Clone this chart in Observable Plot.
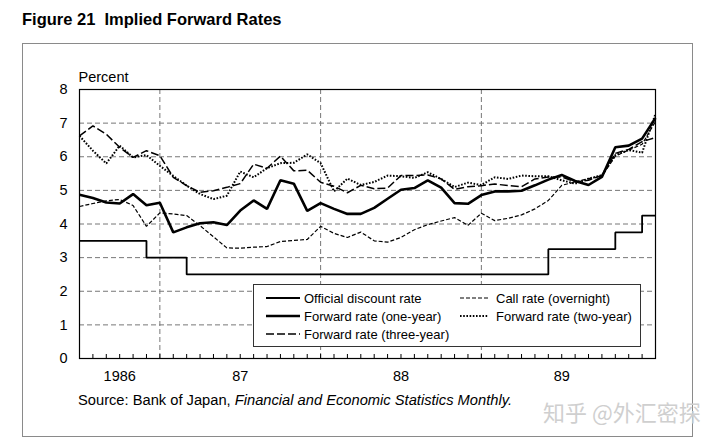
<!DOCTYPE html>
<html>
<head>
<meta charset="utf-8">
<script src="https://cdn.jsdelivr.net/npm/d3@7"></script>
<script src="https://cdn.jsdelivr.net/npm/@observablehq/plot@0.6"></script>
<style>
  body { margin: 0; background: #fff; }
  #wrap { position: relative; width: 720px; height: 438px; background: #fff; font-family: "Liberation Sans", Arial, sans-serif; color: #000; overflow: hidden; }
  #title { position: absolute; left: 22px; top: 10px; font-size: 16.5px; font-weight: bold; white-space: pre; }
  #frame { position: absolute; left: 22px; top: 43px; width: 669px; height: 392px; border: 1px solid #8a8a8a; }
  #chart { position: absolute; left: 0; top: 0; }
  #source { position: absolute; left: 78px; top: 392px; font-size: 14.7px; white-space: pre; }
  #legend { position: absolute; left: 253px; top: 284px; width: 386px; height: 61px; border: 1px solid #333; background: #fff; font-size: 13px; }
  .item { position: absolute; display: flex; align-items: center; white-space: nowrap; }
  #wm { position: absolute; left: 543px; top: 395px; font-family: "Noto Sans CJK SC", sans-serif; font-size: 22px; color: #cfcfcf; white-space: pre; }
</style>
</head>
<body>
<div id="wrap">
  <div id="title">Figure 21  Implied Forward Rates</div>
  <div id="frame"></div>
  <div id="chart"></div>
  <div id="legend"></div>
  <div id="source">Source: Bank of Japan, <i>Financial and Economic Statistics Monthly.</i></div>
  <div id="wm">知乎 @外汇密探</div>
</div>
<script>
// Monthly observations, mid-1986 to early 1990 (44 months)
const discountRate = [3.5,3.5,3.5,3.5,3.5, 3.0,3.0,3.0,
  2.5,2.5,2.5,2.5,2.5,2.5,2.5,2.5,2.5,2.5,2.5,2.5,2.5,2.5,2.5,2.5,2.5,2.5,2.5,2.5,2.5,2.5,2.5,2.5,2.5,2.5,2.5,
  3.25,3.25,3.25,3.25,3.25, 3.75,3.75, 4.25,4.25];
const callRate = [4.52,4.61,4.69,4.73,4.55,3.93,4.33,4.30,4.25,3.95,3.62,3.29,
  3.28,3.31,3.33,3.48,3.51,3.54,3.93,3.72,3.60,3.76,3.50,3.46,
  3.60,3.83,3.98,4.09,4.19,3.96,4.32,4.10,4.17,4.27,4.45,4.70,
  5.15,5.25,5.35,5.42,6.02,6.20,6.37,7.05];
const forward1 = [4.87,4.77,4.64,4.61,4.89,4.56,4.63,3.75,3.90,4.02,4.05,3.97,
  4.40,4.70,4.45,5.30,5.20,4.39,4.62,4.45,4.30,4.30,4.48,4.75,
  5.02,5.07,5.30,5.08,4.62,4.60,4.86,4.97,4.97,4.99,5.15,5.32,
  5.46,5.28,5.16,5.40,6.28,6.33,6.54,7.15];
const forward2 = [6.62,6.18,5.80,6.33,5.98,6.05,5.73,5.43,5.14,4.89,4.74,4.84,
  5.56,5.39,5.66,5.81,5.82,6.07,5.81,4.97,5.35,5.16,5.25,5.44,
  5.42,5.37,5.54,5.34,5.10,5.23,5.16,5.39,5.34,5.44,5.42,5.42,
  5.30,5.20,5.35,5.45,6.05,6.20,6.12,7.28];
const forward3 = [6.62,6.92,6.67,6.28,5.98,6.18,6.03,5.39,5.14,4.94,4.99,5.09,
  5.20,5.78,5.66,6.02,5.58,5.60,5.24,5.12,4.93,5.15,5.05,5.07,
  5.44,5.44,5.46,5.34,5.03,5.11,5.14,5.19,5.14,5.11,5.34,5.40,
  5.40,5.25,5.30,5.45,6.10,6.22,6.45,6.57];
const yearLabels = ["1986", "87", "88", "89"];
const yearLabelPos = [3, 12, 24, 36];     // month index where each year label sits
const yearBoundaries = [6, 18, 30];      // month index of January
const yTicks = [0,1,2,3,4,5,6,7,8];
const gridValues = [1,2,3,4,5,6,7];

const rows = discountRate.map((d, i) => ({
  i, discount: d, call: callRate[i], f1: forward1[i], f2: forward2[i], f3: forward3[i]
}));
const monthTicks = rows.map(r => r.i).slice(1, -1);

const series = [
  {key: "discount", label: "Official discount rate", width: 1.8, dash: null, curve: "step-after"},
  {key: "call", label: "Call rate (overnight)", width: 1.2, dash: "4,2", curve: "linear"},
  {key: "f1", label: "Forward rate (one-year)", width: 2.6, dash: null, curve: "linear"},
  {key: "f2", label: "Forward rate (two-year)", width: 2, dash: "1.6,1.6", curve: "linear"},
  {key: "f3", label: "Forward rate (three-year)", width: 1.5, dash: "8,3", curve: "linear"}
];

const gridStyle = {stroke: "#777", strokeOpacity: 1, strokeWidth: 1, strokeDasharray: "5,3"};
const H = 438, MT = 89, MB = 80;

const plot = Plot.plot({
  width: 720,
  height: H,
  marginLeft: 79,
  marginRight: 65,
  marginTop: MT,
  marginBottom: MB,
  style: {fontFamily: "'Liberation Sans', Arial, sans-serif", fontSize: "14.5px", color: "#000", background: "transparent", overflow: "visible"},
  x: {type: "linear", domain: [0, 43], label: null},
  y: {domain: [0, 8], label: null},
  marks: [
    Plot.ruleY(gridValues, gridStyle),
    Plot.ruleX(yearBoundaries, gridStyle),
    ...series.map(s => Plot.line(rows, {
      x: "i", y: s.key, stroke: "#000", strokeWidth: s.width,
      strokeDasharray: s.dash, curve: s.curve, strokeLinejoin: "miter", strokeLinecap: "butt"
    })),
    // monthly minor ticks pointing up from the x axis
    Plot.ruleX(monthTicks, {stroke: "#000", strokeWidth: 1, insetTop: H - MT - MB - 4}),
    Plot.frame({stroke: "#000", strokeWidth: 1.2}),
    Plot.axisX({ticks: yearLabelPos, tickSize: 0, tickPadding: 12, tickFormat: (d, k) => yearLabels[k], label: null}),
    Plot.axisY({ticks: yTicks, tickSize: 0, tickPadding: 12, label: null}),
    Plot.text(["Percent"], {frameAnchor: "top-left", textAnchor: "start", dy: -18, dx: -1})
  ]
});
document.getElementById("chart").appendChild(plot);

// legend
const legend = document.getElementById("legend");
const positions = {
  discount: [12, 13], f1: [12, 31], f3: [12, 49],
  call: [206, 13], f2: [206, 31]
};
series.forEach(s => {
  const [lx, ly] = positions[s.key];
  const wide = lx < 100;
  const w = wide ? 34 : 28;
  const div = document.createElement("div");
  div.className = "item";
  div.style.left = lx + "px";
  div.style.top = (ly - 8) + "px";
  const svg = d3.create("svg").attr("width", w).attr("height", 16).style("margin-right", "4px");
  svg.append("line").attr("x1", 0).attr("x2", w).attr("y1", 8).attr("y2", 8)
    .attr("stroke", "#000").attr("stroke-width", s.width)
    .attr("stroke-dasharray", s.dash);
  div.appendChild(svg.node());
  const span = document.createElement("span");
  span.textContent = s.label;
  if (!wide) span.style.marginLeft = "4px";
  div.appendChild(span);
  legend.appendChild(div);
});
</script>
</body>
</html>
